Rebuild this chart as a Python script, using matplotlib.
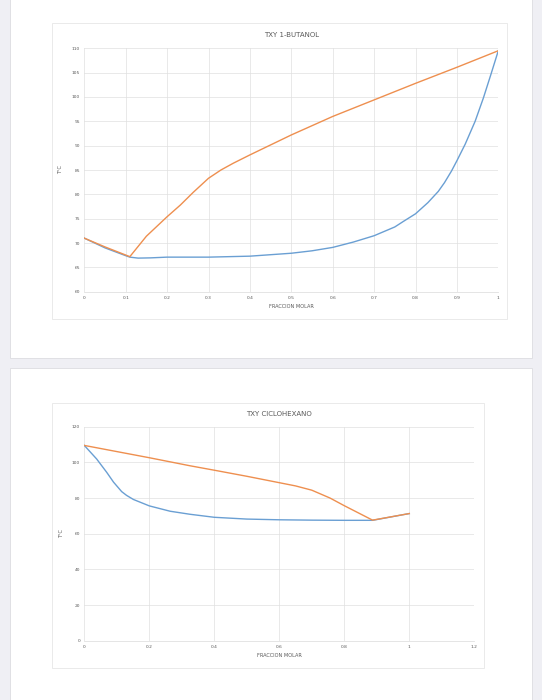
import matplotlib.pyplot as plt
from matplotlib.patches import Rectangle

# datos
# TXY 1-butanol
x_but_liq = [0, 0.05, 0.1, 0.11, 0.13, 0.16, 0.2, 0.3, 0.4, 0.45, 0.5, 0.55, 0.6, 0.65, 0.7, 0.75,
             0.77, 0.8, 0.83, 0.855, 0.87, 0.887, 0.9, 0.92, 0.944, 0.964, 0.982, 1.0]
t_but_liq = [71.0, 69.0, 67.4, 67.1, 66.9, 66.95, 67.1, 67.1, 67.3, 67.6, 67.9, 68.4, 69.1, 70.2, 71.5, 73.3,
             74.4, 76.0, 78.3, 80.6, 82.4, 84.8, 86.9, 90.3, 95.0, 99.8, 104.6, 109.5]
x_but_vap = [0, 0.05, 0.11, 0.15, 0.2, 0.232, 0.263, 0.3, 0.33, 0.36, 0.4, 0.5, 0.6, 0.7, 0.8, 0.9, 1.0]
t_but_vap = [71.0, 69.2, 67.2, 71.4, 75.4, 77.8, 80.4, 83.3, 85.0, 86.4, 88.1, 92.2, 96.0, 99.4, 102.8, 106.1, 109.5]

# TXY ciclohexano
x_cic_liq = [0, 0.038, 0.069, 0.09, 0.115, 0.13, 0.151, 0.2, 0.264, 0.325, 0.4, 0.5, 0.6, 0.7, 0.8, 0.887, 1.0]
t_cic_liq = [109.5, 101.9, 94.4, 88.9, 83.6, 81.5, 79.2, 75.6, 72.6, 70.9, 69.2, 68.2, 67.8, 67.6, 67.5, 67.5, 71.3]
x_cic_vap = [0, 0.2, 0.325, 0.4, 0.5, 0.6, 0.65, 0.7, 0.756, 0.8, 0.887, 1.0]
t_cic_vap = [109.5, 102.6, 98.1, 95.6, 92.2, 88.6, 86.8, 84.4, 80.0, 75.7, 67.6, 71.3]

azul = "#6A9FD3"
naranja = "#EE8F4F"
gris = "#E0E0E0"
texto = "#595959"

W, H = 542, 700
fig = plt.figure(figsize=(W / 100, H / 100), dpi=100)
fig.patch.set_facecolor("#EFEFF4")


def caja(x0, y0, x1, y1, color, borde=None):
    # rectangulo en pixeles (origen arriba a la izquierda)
    r = Rectangle((x0 / W, 1 - y1 / H), (x1 - x0) / W, (y1 - y0) / H,
                  transform=fig.transFigure, facecolor=color,
                  edgecolor=borde if borde else "none", linewidth=0.6, zorder=-5)
    fig.patches.append(r)


# paginas blancas
caja(10, -5, 532, 358, "white", "#DCDCE0")
caja(10, 368, 532, 705, "white", "#DCDCE0")
# marcos de los graficos
caja(52, 23, 507, 319, "white", "#E6E6E6")
caja(52, 403, 484, 668, "white", "#E6E6E6")


def ejes(px0, py0, px1, py1):
    ax = fig.add_axes([px0 / W, 1 - py1 / H, (px1 - px0) / W, (py1 - py0) / H])
    ax.set_facecolor("none")
    for s in ax.spines.values():
        s.set_visible(False)
    ax.spines["bottom"].set_visible(True)
    ax.spines["bottom"].set_color(gris)
    ax.spines["bottom"].set_linewidth(0.6)
    ax.grid(True, color=gris, linewidth=0.5)
    ax.set_axisbelow(True)
    ax.tick_params(length=0, labelsize=3.2, colors=texto, pad=3)
    return ax


# grafico 1
ax1 = ejes(84.3, 48.3, 498.3, 291.7)
ax1.plot(x_but_liq, t_but_liq, color=azul, linewidth=1.0)
ax1.plot(x_but_vap, t_but_vap, color=naranja, linewidth=1.0)
ax1.set_xlim(0, 1)
ax1.set_ylim(60, 110)
ax1.set_xticks([i / 10 for i in range(11)])
ax1.set_xticklabels(["0"] + ["0.%d" % i for i in range(1, 10)] + ["1"])
ax1.set_yticks(range(60, 111, 5))
ax1.set_title("TXY 1-BUTANOL", fontsize=5, color=texto, pad=8)
ax1.set_xlabel("FRACCION MOLAR", fontsize=3.6, color=texto, labelpad=3)
ax1.set_ylabel("T°C", fontsize=3.6, color=texto, labelpad=6)

# grafico 2
ax2 = ejes(84.3, 426.7, 474.3, 640.7)
ax2.plot(x_cic_liq, t_cic_liq, color=azul, linewidth=1.0)
ax2.plot(x_cic_vap, t_cic_vap, color=naranja, linewidth=1.0)
ax2.set_xlim(0, 1.2)
ax2.set_ylim(0, 120)
ax2.set_xticks([0, 0.2, 0.4, 0.6, 0.8, 1.0, 1.2])
ax2.set_xticklabels(["0", "0.2", "0.4", "0.6", "0.8", "1", "1.2"])
ax2.set_yticks(range(0, 121, 20))
ax2.set_title("TXY CICLOHEXANO", fontsize=5, color=texto, pad=8)
ax2.set_xlabel("FRACCION MOLAR", fontsize=3.6, color=texto, labelpad=3)
ax2.set_ylabel("T°C", fontsize=3.6, color=texto, labelpad=6)

fig.savefig("out.png", dpi=100, facecolor=fig.get_facecolor())
